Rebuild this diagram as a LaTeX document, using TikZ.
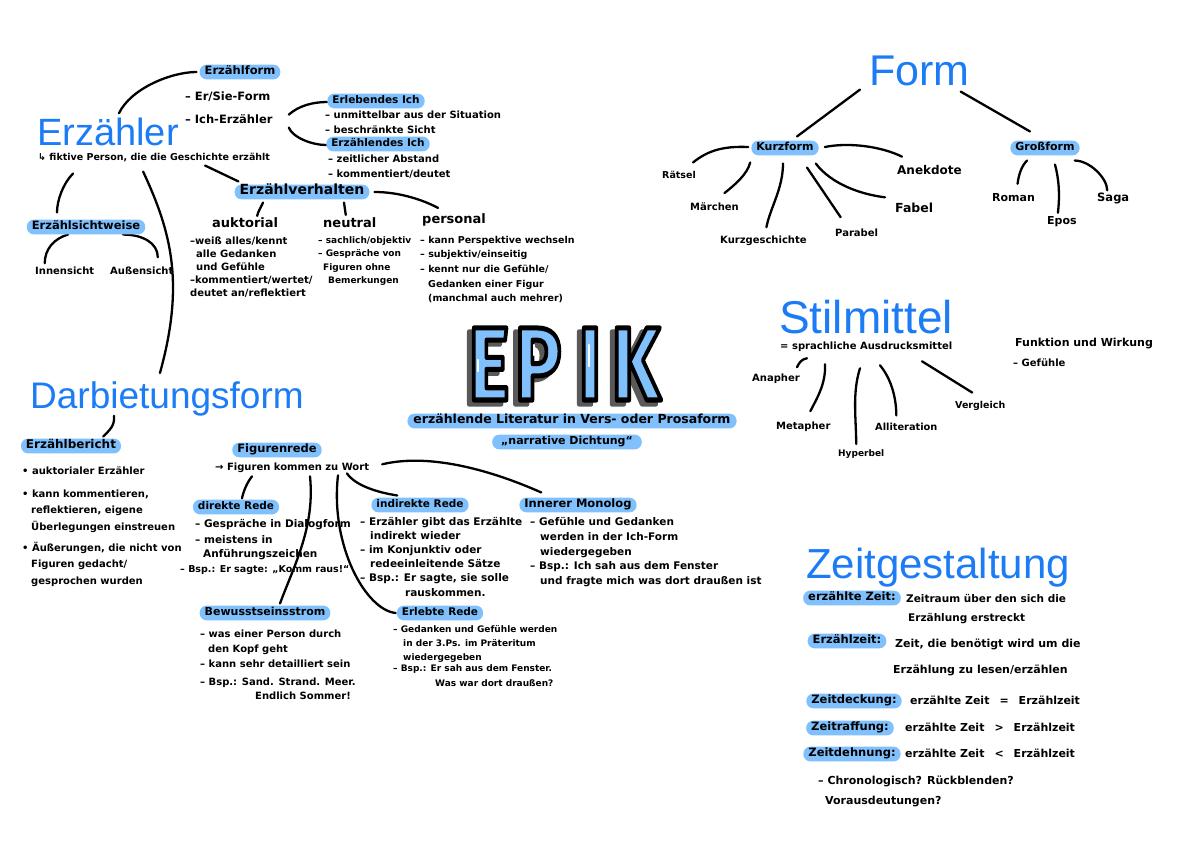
\documentclass[tikz,border=0pt]{standalone}
\usepackage{graphicx}
\usepackage{fontspec}
\setmainfont{DejaVu Sans}
\newfontfamily\titlefont{Liberation Sans}
\newfontfamily\epikfont{Fira Sans}
\usetikzlibrary{calc,backgrounds}
\definecolor{pillblue}{RGB}{128,192,252}
\definecolor{titleblue}{RGB}{28,124,246}
\definecolor{shadowgray}{RGB}{90,90,90}
\newcommand{\epletter}[3]{\scalebox{0.74}[1]{\color{#2}\special{pdf:literal direct #3 5 w 1 j 2 Tr}#1\special{pdf:literal direct 0 Tr 0 j}}}
\begin{document}
\begin{tikzpicture}[x=1pt,y=-1pt,
 txt/.style={anchor=base west,inner sep=0pt,font=\bfseries\fontsize{10}{12}\selectfont},
 sz/.style={font=\bfseries\fontsize{#1}{#1}\selectfont},
 pill/.style={fill=pillblue,rounded corners=7pt,inner xsep=5pt,inner ysep=2pt,text height=8.3pt,text depth=2.4pt,font=\bfseries\fontsize{11.5}{12}\selectfont},
 ttl/.style={anchor=base west,inner sep=0pt,text=titleblue,font=\titlefont\fontsize{38}{38}\selectfont},
 tsz/.style={font=\titlefont\fontsize{#1}{#1}\selectfont},
 con/.style={line width=2.3pt,line cap=round},
 epk/.style={anchor=base,inner sep=0pt,font=\epikfont\bfseries\fontsize{104}{104}\selectfont},
]
\useasboundingbox (0,0) rectangle (1200,849);

% ---------------- Erzähler ----------------
\node[ttl] (erz) at (37,145) {Erzähler};
\node[txt,sz=9.5] (sub) at (38,160) {↳ fiktive Person, die die Geschichte erzählt};
\node[pill] (ef) at (240,72) {Erzählform};
\node[txt,sz=11.5] (ersie) at (185,100) {– Er/Sie-Form};
\node[txt,sz=11.5] (ich) at (185,123) {– Ich-Erzähler};
\node[pill,sz=10.5] (eli) at (376,101) {Erlebendes Ich};
\node[txt] (eli1) at (325,118) {– unmittelbar aus der Situation};
\node[txt] (eli2) at (325,133) {– beschränkte Sicht};
\node[pill,sz=10.5] (ezi) at (378,144) {Erzählendes Ich};
\node[txt] (ezi1) at (328,162) {– zeitlicher Abstand};
\node[txt] (ezi2) at (328,177) {– kommentiert/deutet};

\node[pill,sz=14] (ev) at (302,192) {Erzählverhalten};
\node[txt,sz=13] (auk) at (212,227) {auktorial};
\node[txt] (auk1) at (190,244) {–weiß alles/kennt};
\node[txt] (auk2) at (196,257) {alle Gedanken};
\node[txt] (auk3) at (196,270) {und Gefühle};
\node[txt] (auk4) at (190,283) {–kommentiert/wertet/};
\node[txt] (auk5) at (190,296) {deutet an/reflektiert};
\node[txt,sz=13] (neu) at (323,227) {neutral};
\node[txt,sz=9] (neu1) at (318,243) {– sachlich/objektiv};
\node[txt,sz=9] (neu2) at (318,256) {– Gespräche von};
\node[txt,sz=9] (neu3) at (323,270) {Figuren ohne};
\node[txt,sz=9] (neu4) at (328,283) {Bemerkungen};
\node[txt,sz=13] (pers) at (422,223) {personal};
\node[txt,sz=9.5] (pers1) at (420,243) {– kann Perspektive wechseln};
\node[txt,sz=9.5] (pers2) at (420,257) {– subjektiv/einseitig};
\node[txt,sz=9.5] (pers3) at (420,272) {– kennt nur die Gefühle/};
\node[txt,sz=9.5] (pers4) at (428,287) {Gedanken einer Figur};
\node[txt,sz=9.5] (pers5) at (428,301) {(manchmal auch mehrer)};

\node[pill] (esw) at (86,227) {Erzählsichtweise};
\node[txt] (innen) at (35,274) {Innensicht};
\node[txt] (aus) at (110,274) {Außensicht};

% ---------------- Darbietungsform ----------------
\node[ttl,tsz=37] (dbf) at (30,408) {Darbietungsform};
\node[pill,sz=12] (eb) at (71,446) {Erzählbericht};
\node[txt] (eb1) at (22,474) {• auktorialer Erzähler};
\node[txt] (eb2) at (22,497) {• kann kommentieren,};
\node[txt] (eb3) at (31,513) {reflektieren, eigene};
\node[txt] (eb4) at (31,530) {Überlegungen einstreuen};
\node[txt] (eb5) at (22,551) {• Äußerungen, die nicht von};
\node[txt] (eb6) at (31,567) {Figuren gedacht/};
\node[txt] (eb7) at (31,584) {gesprochen wurden};

\node[pill] (fr) at (277,450) {Figurenrede};
\node[txt] (fkw) at (215,470) {→ Figuren kommen zu Wort};

\node[pill,sz=10.5] (dr) at (236,507) {direkte Rede};
\node[txt,sz=10.5] (dr1) at (195,527) {– Gespräche in Dialogform};
\node[txt,sz=10.5] (dr2) at (195,543) {– meistens in};
\node[txt,sz=10.5] (dr3) at (203,557) {Anführungszeichen};
\node[txt,sz=9.5] (dr4) at (180,572) {– Bsp.: Er sagte: „Komm raus!“};

\node[pill,sz=10.5] (ir) at (420,505) {indirekte Rede};
\node[txt,sz=10.5] (ir1) at (360,525) {– Erzähler gibt das Erzählte};
\node[txt,sz=10.5] (ir2) at (370,539) {indirekt wieder};
\node[txt,sz=10.5] (ir3) at (360,553) {– im Konjunktiv oder};
\node[txt,sz=10.5] (ir4) at (370,567) {redeeinleitende Sätze};
\node[txt,sz=10.5] (ir5) at (360,581) {– Bsp.: Er sagte, sie solle};
\node[txt,sz=10.5] (ir6) at (405,596) {rauskommen.};

\node[pill] (im) at (578,505) {Innerer Monolog};
\node[txt,sz=10.5] (im1) at (530,525) {– Gefühle und Gedanken};
\node[txt,sz=10.5] (im2) at (540,540) {werden in der Ich-Form};
\node[txt,sz=10.5] (im3) at (540,555) {wiedergegeben};
\node[txt,sz=10.5] (im4) at (530,569) {– Bsp.: Ich sah aus dem Fenster};
\node[txt,sz=10.5] (im5) at (540,584) {und fragte mich was dort draußen ist};

\node[pill,sz=11] (bs) at (265,613) {Bewusstseinsstrom};
\node[txt] (bs1) at (200,637) {– was einer Person durch};
\node[txt] (bs2) at (208,652) {den Kopf geht};
\node[txt] (bs3) at (200,667) {– kann sehr detailliert sein};
\node[txt] (bs4) at (200,685) {– Bsp.: Sand. Strand. Meer.};
\node[txt] (bs5) at (255,699) {Endlich Sommer!};

\node[pill,sz=10.5] (er) at (440,613) {Erlebte Rede};
\node[txt,sz=9] (er1) at (393,632) {– Gedanken und Gefühle werden};
\node[txt,sz=9] (er2) at (403,646) {in der 3.Ps. im Präteritum};
\node[txt,sz=9] (er3) at (403,660) {wiedergegeben};
\node[txt,sz=9] (er4) at (393,671) {– Bsp.: Er sah aus dem Fenster.};
\node[txt,sz=9] (er5) at (435,686) {Was war dort draußen?};

% ---------------- EPIK ----------------
\foreach \L/\X [count=\i] in {E/489,P/538,I/590,K/636}{
  \node[epk] (es\i) at (\X-5,404) {\epletter{\L}{shadowgray}{0.35 0.35 0.35 RG}};
}
\foreach \L/\X [count=\i] in {E/489,P/538,I/590,K/636}{
  \node[epk] (ep\i) at (\X,400) {\epletter{\L}{pillblue}{0 0 0 RG}};
}
\draw[white,line width=2.2pt,line cap=round] (478,360) -- (478,371);
\draw[white,line width=2.2pt,line cap=round] (534,345) -- (534,355);
\draw[white,line width=2.2pt,line cap=round] (589,345) -- (589,366);

\node[pill,sz=12.5,inner xsep=6pt] (lit) at (572,421) {erzählende Literatur in Vers- oder Prosaform};
\node[pill,sz=11,inner xsep=9pt] (nd) at (567,442) {„narrative Dichtung“};

% ---------------- Form ----------------
\node[ttl,tsz=43] (form) at (869,85) {Form};
\node[pill,sz=11] (kf) at (785,148) {Kurzform};
\node[pill,sz=11] (gf) at (1045,148) {Großform};
\node[txt,sz=9.5] (rae) at (662,178) {Rätsel};
\node[txt] (mae) at (690,210) {Märchen};
\node[txt] (kg) at (720,243) {Kurzgeschichte};
\node[txt] (par) at (835,236) {Parabel};
\node[txt,sz=12.5] (fab) at (895,212) {Fabel};
\node[txt,sz=12] (ane) at (897,174) {Anekdote};
\node[txt,sz=11] (rom) at (992,201) {Roman};
\node[txt,sz=11] (epo) at (1047,224) {Epos};
\node[txt,sz=11.5] (sag) at (1097,201) {Saga};

% ---------------- Stilmittel ----------------
\node[ttl,tsz=46] (stil) at (779,333) {Stilmittel};
\node[txt] (sam) at (780,349) {= sprachliche Ausdrucksmittel};
\node[txt] (ana) at (752,381) {Anapher};
\node[txt] (met) at (776,429) {Metapher};
\node[txt,sz=9] (hyp) at (838,456) {Hyperbel};
\node[txt,sz=9.8] (all) at (875,430) {Alliteration};
\node[txt,sz=9.5] (ver) at (955,408) {Vergleich};
\node[txt,sz=11] (fuw) at (1015,346) {Funktion und Wirkung};
\node[txt] (gef) at (1013,366) {– Gefühle};

% ---------------- Zeitgestaltung ----------------
\node[ttl,tsz=42] (zg) at (806,578) {Zeitgestaltung};
\node[pill] (ez) at (852,598) {erzählte Zeit:};
\node[txt,sz=10.5] (ez1) at (906,602) {Zeitraum über den sich die};
\node[txt,sz=10.5] (ez2) at (908,621) {Erzählung erstreckt};
\node[pill] (ezz) at (847,641) {Erzählzeit:};
\node[txt,sz=11] (ezz1) at (895,647) {Zeit, die benötigt wird um die};
\node[txt,sz=11] (ezz2) at (893,673) {Erzählung zu lesen/erzählen};
\node[pill] (zd) at (854,701) {Zeitdeckung:};
\node[txt,sz=11] (zd1) at (910,704) {erzählte Zeit\hspace{10pt}=\hspace{10pt}Erzählzeit};
\node[pill] (zr) at (850,728) {Zeitraffung:};
\node[txt,sz=11] (zr1) at (905,731) {erzählte Zeit\hspace{10pt}>\hspace{10pt}Erzählzeit};
\node[pill] (zdh) at (852,754) {Zeitdehnung:};
\node[txt,sz=11] (zdh1) at (905,757) {erzählte Zeit\hspace{10pt}<\hspace{10pt}Erzählzeit};
\node[txt,sz=11] (chr1) at (818,784) {– Chronologisch? Rückblenden?};
\node[txt,sz=11] (chr2) at (825,804) {Vorausdeutungen?};

% ---------------- connectors ----------------
\begin{scope}[on background layer]
\fill[white] (0,0) rectangle (1200,849);
\begin{scope}[con]
\draw ($(erz.north)+(11,-4)$) .. controls +(12,-25) and +(-25,0) .. ($(ef.west)+(-3,0)$);
\draw ($(sub.south west)+(35,12)$) .. controls +(-10,10) and +(0,-12) .. ($(esw.north)+(-29,-7)$);
\draw ($(esw.south)+(-18,0)$) .. controls +(-14,4) and +(0,-14) .. ($(innen.north)+(-20,-3)$);
\draw ($(esw.south)+(37,0)$) .. controls +(20,0) and +(0,-14) .. ($(aus.north)+(16,-9)$);
\draw ($(ich.east)+(16,-4)$) .. controls +(10,-9) and +(-14,0) .. ($(eli.west)+(0,1)$);
\draw ($(ich.east)+(16,9)$) .. controls +(4,10) and +(-14,0) .. ($(ezi.west)+(0,1)$);
\draw ($(sub.south)+(51,4)$) -- ($(ev.north west)+(4,-3)$);
\draw ($(ev.south)+(-39,3)$) .. controls +(-2,5) and +(1,-5) .. ($(auk.north)+(12,-1)$);
\draw ($(ev.south)+(42,3)$) -- ($(neu.north)+(-4,-2)$);
\draw ($(ev.east)+(5,0)$) .. controls +(25,0) and +(-15,-8) .. ($(pers.north)+(-16,-5)$);
\draw ($(sub.south)+(-11,10)$) .. controls +(28,60) and +(25,-90) .. ($(dbf.north)+(-7,-8)$);
\draw ($(dbf.south west)+(84,0)$) .. controls +(1,10) and +(6,-6) .. ($(eb.north east)+(-18,-2)$);
\draw ($(fkw.south west)+(37,4)$) .. controls +(-5,6) and +(1,-6) .. ($(dr.north)+(6,-1)$);
\draw ($(fkw.south west)+(95,4)$) .. controls +(5,50) and +(15,-40) .. ($(bs.north)+(15,-2)$);
\draw ($(fkw.south west)+(123,3)$) .. controls +(-8,70) and +(-30,-3) .. ($(er.west)+(-1,0)$);
\draw ($(fkw.south west)+(132,1)$) .. controls +(8,12) and +(-20,-3) .. ($(ir.north west)+(26,-2)$);
\draw ($(fkw.east)+(13,-3)$) .. controls +(50,-12) and +(-45,-20) .. ($(im.north west)+(22,-5)$);
\draw ($(form.south west)+(-9,4)$) -- ($(kf.north)+(12,-4)$);
\draw ($(form.south east)+(-9,6)$) -- ($(gf.north)+(-15,-9)$);
\draw ($(kf.west)+(-3,-1)$) .. controls +(-25,-1) and +(15,-12) .. ($(rae.north east)+(-3,-8)$);
\draw ($(kf.south west)+(-1,7)$) .. controls +(-3,12) and +(10,-8) .. ($(mae.north)+(10,-9)$);
\draw ($(kf.south)+(-2,8)$) .. controls +(0,25) and +(4,-20) .. ($(kg.north)+(3,-8)$);
\draw ($(kf.south)+(22,12)$) -- ($(par.north)+(-16,-11)$);
\draw ($(kf.south east)+(-3,8)$) .. controls +(15,20) and +(-25,-3) .. ($(fab.north west)+(-10,-5)$);
\draw ($(kf.east)+(6,-1)$) .. controls +(25,-5) and +(-20,-10) .. ($(ane.north west)+(5,-8)$);
\draw ($(gf.south)+(-18,5)$) .. controls +(-6,6) and +(1,-8) .. ($(rom.north)+(4,-9)$);
\draw ($(gf.south)+(10,9)$) .. controls +(4,15) and +(2,-18) .. ($(epo.north)+(-4,-3)$);
\draw ($(gf.south east)+(-5,5)$) .. controls +(15,0) and +(0,-12) .. ($(sag.north)+(-6,-2)$);
\draw ($(sam.south west)+(27,7)$) .. controls +(-6,1) and +(2,-4) .. ($(ana.north east)+(-3,-6)$);
\draw ($(sam.south west)+(45,13)$) .. controls +(1,20) and +(6,-12) .. ($(met.north)+(7,-10)$);
\draw ($(sam.south west)+(80,17)$) .. controls +(-8,25) and +(0,-25) .. ($(hyp.north)+(-5,-5)$);
\draw ($(sam.south west)+(100,14)$) .. controls +(10,12) and +(0,-20) .. ($(all.north)+(-10,-7)$);
\draw ($(sam.south west)+(142,10)$) -- ($(ver.north)+(-8,-8)$);
\end{scope}
\end{scope}
\end{tikzpicture}
\end{document}
